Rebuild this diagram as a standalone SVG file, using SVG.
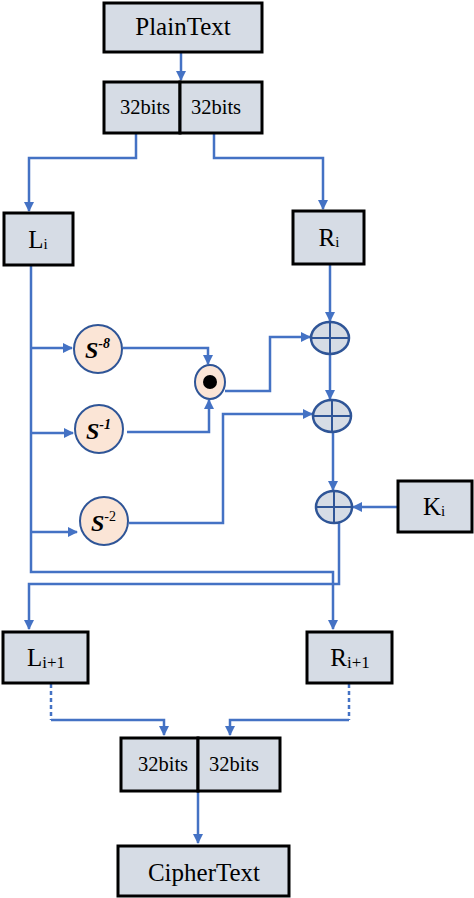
<svg xmlns="http://www.w3.org/2000/svg" width="474" height="898" viewBox="0 0 474 898">
<defs>
<style>
.box{fill:#d6dce5;stroke:#000;stroke-width:3}
.ln{fill:none;stroke:#4472c4;stroke-width:2.5}
.dash{fill:none;stroke:#4472c4;stroke-width:2.5;stroke-dasharray:4 3}
.sc{fill:#fbe5d6;stroke:#2f5597;stroke-width:2}
.xor{fill:#d6dce5;stroke:#2f5597;stroke-width:2.5}
.xl{stroke:#2f5597;stroke-width:2}
.t{font-family:"Liberation Serif","Times New Roman",serif;fill:#000;text-anchor:middle}
.s{font-family:"Liberation Serif","Times New Roman",serif;font-weight:bold;font-style:italic;fill:#000}
</style>
<marker id="ah" viewBox="0 0 10 10" refX="9" refY="5" markerWidth="4" markerHeight="4" orient="auto" markerUnits="strokeWidth">
<path d="M0,0 L10,5 L0,10 z" fill="#4472c4"/>
</marker>
</defs>

<g id="connectors">
<path class="ln" d="M181,52 V80" marker-end="url(#ah)"/>
<path class="ln" d="M136,133 V158 H29 V211" marker-end="url(#ah)"/>
<path class="ln" d="M214,133 V158 H323 V209" marker-end="url(#ah)"/>
<path class="ln" d="M31,265 V572 H333 V629" marker-end="url(#ah)"/>
<path class="ln" d="M31,348 H72" marker-end="url(#ah)"/>
<path class="ln" d="M31,433 H73" marker-end="url(#ah)"/>
<path class="ln" d="M31,532 H77" marker-end="url(#ah)"/>
<path class="ln" d="M123,348 H208 V364" marker-end="url(#ah)"/>
<path class="ln" d="M127,432 H209 V400" marker-end="url(#ah)"/>
<path class="ln" d="M225,391 H270 V337 H310" marker-end="url(#ah)"/>
<path class="ln" d="M129,523 H223 V414 H312" marker-end="url(#ah)"/>
<path class="ln" d="M330,264 V321" marker-end="url(#ah)"/>
<path class="ln" d="M330,354 V399" marker-end="url(#ah)"/>
<path class="ln" d="M333,432 V490" marker-end="url(#ah)"/>
<path class="ln" d="M398,507 H353" marker-end="url(#ah)"/>
<path class="ln" d="M339,523 V584 H29 V629" marker-end="url(#ah)"/>
<path class="dash" d="M51,684 V720"/>
<path class="ln" d="M51,720 H164 V735" marker-end="url(#ah)"/>
<path class="dash" d="M349,684 V720"/>
<path class="ln" d="M349,720 H230 V735" marker-end="url(#ah)"/>
<path class="ln" d="M198,792 V843" marker-end="url(#ah)"/>
</g>

<g id="plaintext">
<rect class="box" x="104" y="3" width="158" height="49"/>
<text class="t" x="183" y="35" font-size="25">PlainText</text>
</g>
<g id="split-top">
<rect class="box" x="104" y="82" width="76" height="51"/>
<rect class="box" x="180" y="82" width="82" height="51"/>
<text class="t" x="145" y="114" font-size="20.5">32bits</text>
<text class="t" x="216" y="114" font-size="20.5">32bits</text>
</g>
<g id="Li">
<rect class="box" x="4" y="213" width="69" height="52"/>
<text class="t" x="38" y="248" font-size="25">L<tspan font-size="15" dy="1">i</tspan></text>
</g>
<g id="Ri">
<rect class="box" x="293" y="211" width="71" height="53"/>
<text class="t" x="329" y="246" font-size="25">R<tspan font-size="15" dy="1">i</tspan></text>
</g>
<g id="s8">
<circle class="sc" cx="98" cy="349" r="24"/>
<text class="s" x="85" y="358" font-size="24">S<tspan font-size="14" dy="-10">-8</tspan></text>
</g>
<g id="s1">
<circle class="sc" cx="99" cy="429" r="24"/>
<text class="s" x="86" y="439" font-size="24">S<tspan font-size="14" dy="-10">-1</tspan></text>
</g>
<g id="s2">
<circle class="sc" cx="104" cy="521" r="24"/>
<text class="s" x="91" y="531" font-size="24">S<tspan font-size="14" dy="-10" font-weight="normal" font-style="normal">-2</tspan></text>
</g>
<g id="dot">
<ellipse class="sc" cx="210" cy="382" rx="15" ry="17"/>
<circle cx="210" cy="382" r="7" fill="#000"/>
</g>
<g id="xor1">
<ellipse class="xor" cx="330" cy="338" rx="19" ry="16"/>
<line class="xl" x1="311" y1="338" x2="349" y2="338"/>
<line class="xl" x1="330" y1="322" x2="330" y2="354"/>
</g>
<g id="xor2">
<ellipse class="xor" cx="332" cy="416" rx="19" ry="16"/>
<line class="xl" x1="313" y1="416" x2="351" y2="416"/>
<line class="xl" x1="332" y1="400" x2="332" y2="432"/>
</g>
<g id="xor3">
<ellipse class="xor" cx="334" cy="507" rx="18" ry="16"/>
<line class="xl" x1="316" y1="507" x2="352" y2="507"/>
<line class="xl" x1="334" y1="491" x2="334" y2="523"/>
</g>
<g id="Ki">
<rect class="box" x="398" y="481" width="74" height="51"/>
<text class="t" x="434" y="515" font-size="25">K<tspan font-size="15" dy="1">i</tspan></text>
</g>
<g id="Li1">
<rect class="box" x="3" y="632" width="85" height="51"/>
<text class="t" x="46" y="666" font-size="25">L<tspan font-size="17" dy="2">i+1</tspan></text>
</g>
<g id="Ri1">
<rect class="box" x="307" y="632" width="85" height="51"/>
<text class="t" x="350" y="666" font-size="25">R<tspan font-size="17" dy="2">i+1</tspan></text>
</g>
<g id="split-bottom">
<rect class="box" x="121" y="738" width="77" height="53"/>
<rect class="box" x="198" y="738" width="82" height="53"/>
<text class="t" x="163" y="771" font-size="20.5">32bits</text>
<text class="t" x="234" y="771" font-size="20.5">32bits</text>
</g>
<g id="ciphertext">
<rect class="box" x="118" y="846" width="171" height="50"/>
<text class="t" x="204" y="881" font-size="25">CipherText</text>
</g>
</svg>
